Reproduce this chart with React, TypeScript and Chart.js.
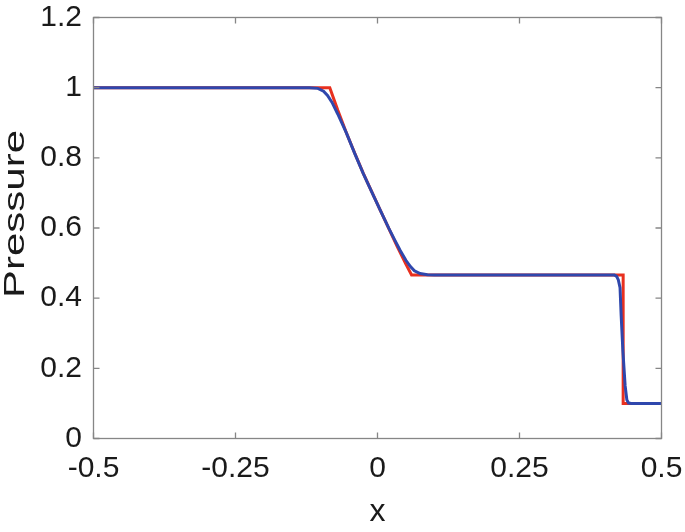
import React, { useEffect, useRef } from "react";
import { Chart, registerables } from "chart.js";

Chart.register(...registerables);

// Exact solution (red)
const exactX = [-0.5, -0.084, -0.07, -0.055, -0.04, -0.025, -0.01, 0.005, 0.02, 0.035, 0.05, 0.06, 0.4325, 0.4325, 0.5];
const exactP = [1, 1, 0.936, 0.872, 0.813, 0.756, 0.703, 0.65, 0.598, 0.546, 0.497, 0.466, 0.466, 0.1, 0.1];

// Numerical solution (blue)
const numX = [-0.5, -0.12, -0.105, -0.095, -0.088, -0.08, -0.07, -0.055, -0.04, -0.025, -0.01, 0.005, 0.02, 0.03, 0.04, 0.05, 0.058, 0.065, 0.075, 0.088, 0.1, 0.417, 0.421, 0.424, 0.427, 0.429, 0.432, 0.436, 0.439, 0.442, 0.447, 0.5];
const numP = [1, 1, 0.998, 0.99, 0.978, 0.958, 0.925, 0.872, 0.812, 0.755, 0.702, 0.65, 0.599, 0.567, 0.536, 0.508, 0.49, 0.478, 0.47, 0.467, 0.466, 0.466, 0.462, 0.452, 0.43, 0.35, 0.25, 0.15, 0.11, 0.101, 0.1, 0.1];

const xTicks = [-0.5, -0.25, 0, 0.25, 0.5];
const xTickLabels = ["-0.5", "-0.25", "0", "0.25", "0.5"];
const yTicks = [0, 0.2, 0.4, 0.6, 0.8, 1, 1.2];
const yTickLabels = ["0", "0.2", "0.4", "0.6", "0.8", "1", "1.2"];
const yTitle = "Pressure";
const xTitle = "x";

const FONT = "'Liberation Sans', Arial, Helvetica, sans-serif";
const TEXT = "#1a1a1a";
const AXIS = "#868686";

const boxPlugin = {
  id: "matlabBox",
  afterDatasetsDraw(chart: any) {
    const { ctx, chartArea } = chart;
    const { left, right, top, bottom } = chartArea;
    const xs = chart.scales.x;
    const ys = chart.scales.y;
    const tl = 6;
    ctx.save();
    ctx.strokeStyle = AXIS;
    ctx.lineWidth = 1.3;
    ctx.beginPath();
    xTicks.forEach((v) => {
      const px = xs.getPixelForValue(v);
      ctx.moveTo(px, bottom);
      ctx.lineTo(px, bottom - tl);
      ctx.moveTo(px, top);
      ctx.lineTo(px, top + tl);
    });
    yTicks.forEach((v) => {
      const py = ys.getPixelForValue(v);
      ctx.moveTo(left, py);
      ctx.lineTo(left + tl, py);
      ctx.moveTo(right, py);
      ctx.lineTo(right - tl, py);
    });
    ctx.stroke();
    ctx.strokeRect(left, top, right - left, bottom - top);
    ctx.restore();
  },
  afterDraw(chart: any) {
    const { ctx } = chart;
    ctx.save();
    ctx.translate(15.5, 214);
    ctx.rotate(-Math.PI / 2);
    ctx.scale(1.4, 1);
    ctx.font = `30px ${FONT}`;
    ctx.fillStyle = TEXT;
    ctx.textAlign = "center";
    ctx.textBaseline = "middle";
    ctx.fillText(yTitle, 0, 0);
    ctx.restore();
  },
};

const zeroPad = (scale: any) => {
  scale.paddingLeft = 0;
  scale.paddingRight = 0;
  scale.paddingTop = 0;
  scale.paddingBottom = 0;
};

export default function App() {
  const ref = useRef<HTMLCanvasElement>(null);

  useEffect(() => {
    if (!ref.current) return;
    const chart = new Chart(ref.current, {
      type: "line",
      data: {
        datasets: [
          {
            label: "Numerical",
            data: numX.map((x, i) => ({ x, y: numP[i] })),
            borderColor: "#2f47ad",
            borderWidth: 3,
            pointRadius: 0,
            tension: 0,
            fill: false,
          },
          {
            label: "Exact",
            data: exactX.map((x, i) => ({ x, y: exactP[i] })),
            borderColor: "#e8301f",
            borderWidth: 3,
            pointRadius: 0,
            tension: 0,
            fill: false,
          },
        ],
      },
      options: {
        animation: false,
        responsive: false,
        devicePixelRatio: 1,
        layout: { padding: { top: 17.5, right: 23.5, left: 0, bottom: 0 } },
        plugins: { legend: { display: false }, tooltip: { enabled: false } },
        scales: {
          x: {
            type: "linear",
            min: -0.5,
            max: 0.5,
            grid: { display: false, drawTicks: false },
            border: { display: false },
            afterBuildTicks: (scale: any) => {
              scale.ticks = xTicks.map((v) => ({ value: v }));
            },
            afterFit: (scale: any) => {
              scale.height = 93.5;
              zeroPad(scale);
            },
            ticks: {
              padding: 15,
              color: TEXT,
              maxRotation: 0,
              autoSkip: false,
              font: { family: FONT, size: 30, lineHeight: 1 },
              callback: (_v: any, i: number) => xTickLabels[i],
            },
            title: {
              display: true,
              text: xTitle,
              color: TEXT,
              padding: { top: 0, bottom: 4 },
              font: { family: FONT, size: 32, lineHeight: 1 },
            },
          },
          y: {
            type: "linear",
            min: 0,
            max: 1.2,
            grid: { display: false, drawTicks: false },
            border: { display: false },
            afterBuildTicks: (scale: any) => {
              scale.ticks = yTicks.map((v) => ({ value: v }));
            },
            afterFit: (scale: any) => {
              scale.width = 93.5;
              zeroPad(scale);
            },
            ticks: {
              padding: 11.5,
              color: TEXT,
              autoSkip: false,
              font: { family: FONT, size: 30, lineHeight: 1 },
              callback: (_v: any, i: number) => yTickLabels[i],
            },
            title: { display: false },
          },
        },
      },
      plugins: [boxPlugin],
    });
    return () => chart.destroy();
  }, []);

  return (
    <div style={{ position: "fixed", left: 0, top: 0, width: 685, height: 532, background: "#fff" }}>
      <canvas ref={ref} width={685} height={532} style={{ display: "block", width: 685, height: 532 }} />
    </div>
  );
}
